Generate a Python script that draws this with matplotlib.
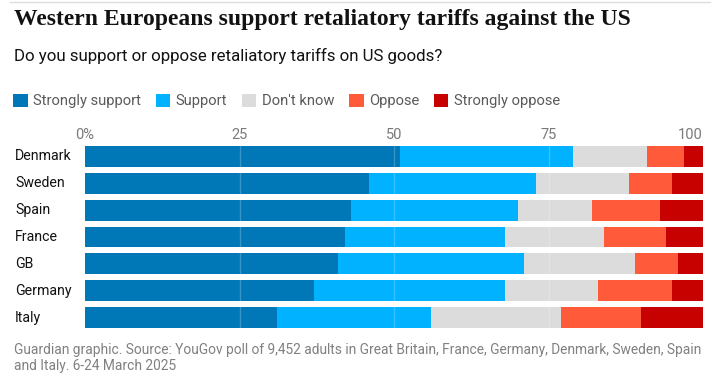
import numpy as np
import matplotlib
matplotlib.use("Agg")
import matplotlib.pyplot as plt
from matplotlib.patches import Patch
from matplotlib.transforms import blended_transform_factory

# ============ Data ============

countries = ["Denmark", "Sweden", "Spain", "France", "GB", "Germany", "Italy"]
responses = ["Strongly support", "Support", "Don't know", "Oppose", "Strongly oppose"]

strongly_support = [51, 46, 43, 42, 41, 37, 31]
support          = [28, 27, 27, 26, 30, 31, 25]
dont_know        = [12, 15, 12, 16, 18, 15, 21]
oppose           = [6, 7, 11, 10, 7, 12, 13]
strongly_oppose  = [3, 5, 7, 7, 4, 5, 10]

tick_values = [0, 25, 50, 75, 100]
tick_labels = ["0%", "25", "50", "75", "100"]

colors = ["#0077b6", "#00b2ff", "#dcdcdc", "#ff5b3a", "#c70000"]

TITLE = "Western Europeans support retaliatory tariffs against the US"
SUBTITLE = "Do you support or oppose retaliatory tariffs on US goods?"
FOOTER = ("Guardian graphic. Source: YouGov poll of 9,452 adults in Great Britain, France, Germany, Denmark, Sweden, Spain\n"
          "and Italy. 6-24 March 2025")

SANS = ["Roboto", "DejaVu Sans"]
GREY = "#7a7a7a"

# ============ Figure ============

W, H = 720, 380
fig = plt.figure(figsize=(W / 100, H / 100), dpi=100)
fig.patch.set_facecolor("white")

def px(x, y):
    """pixel (from top-left) -> figure fraction"""
    return x / W, 1 - y / H

# axes: 0 -> x=85, 100 -> x=703; bars from y~143 to ~331
ax_left, ax_right = 85, 703
ax_top, ax_bot = 143, 331
ax = fig.add_axes([ax_left / W, 1 - ax_bot / H, (ax_right - ax_left) / W, (ax_bot - ax_top) / H])

series = [strongly_support, support, dont_know, oppose, strongly_oppose]
y = np.arange(len(countries))
left = np.zeros(len(countries))
for vals, col, name in zip(series, colors, responses):
    vals = np.array(vals, dtype=float)
    ax.barh(y, vals, left=left, height=0.78, color=col, label=name, zorder=2, linewidth=0)
    left += vals

ax.set_xlim(0, 100)
ax.set_ylim(len(countries) - 0.5, -0.5)

# gridlines drawn on top of bars, faint
for t in tick_values[1:-1]:
    ax.axvline(t, color="white", alpha=0.22, linewidth=1, zorder=3)

for s in ax.spines.values():
    s.set_visible(False)
ax.xaxis.tick_top()
ax.set_xticks(tick_values)
ax.set_xticklabels(tick_labels)
ax.tick_params(axis="x", length=0, pad=1, labelsize=10.5, labelcolor=GREY)
for lab in ax.get_xticklabels():
    lab.set_family(SANS)
ax.get_xticklabels()[-1].set_ha("right")
ax.set_yticks([])

# country labels, left-aligned at x=15
tr = blended_transform_factory(fig.transFigure, ax.transData)
for i, c in enumerate(countries):
    ax.text(15 / W, i, c, transform=tr, ha="left", va="center", fontsize=10.2,
            family=SANS, color="#121212")

# ============ Text ============

fig.add_artist(plt.Line2D([10 / W, 710 / W], [1 - 2 / H, 1 - 2 / H], color="#dcdcdc", linewidth=1))

fig.text(*px(14, 20), TITLE, ha="left", va="center", fontsize=17, fontweight="bold",
         family=["Liberation Serif", "DejaVu Serif"], color="#121212")
fig.text(*px(14, 56), SUBTITLE, ha="left", va="center", fontsize=12.2,
         family=SANS, color="#121212")

handles = [Patch(facecolor=c, edgecolor="none") for c in colors]
leg = fig.legend(handles, responses, loc="center left", bbox_to_anchor=px(13, 101), ncol=5,
                 frameon=False, handlelength=1.0, handleheight=1.0, handletextpad=0.35,
                 columnspacing=1.0, borderpad=0, borderaxespad=0,
                 prop={"family": SANS, "size": 10.6})
for t in leg.get_texts():
    t.set_color("#5a5a5a")

fig.text(*px(14, 358), FOOTER, ha="left", va="center", fontsize=9.9,
         family=SANS, color="#808080", linespacing=1.2)

fig.savefig("out.png", dpi=100)
